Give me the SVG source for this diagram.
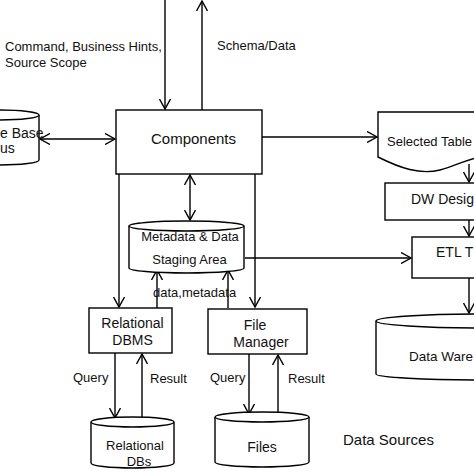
<svg xmlns="http://www.w3.org/2000/svg" width="474" height="474" viewBox="0 0 474 474">
<style>
.s{fill:#fff;stroke:#000;stroke-width:1.4}
.c{fill:none;stroke:#000;stroke-width:1.4}
text{font-family:"Liberation Sans",Arial,sans-serif;fill:#111}
.t13{font-size:13px}
.t14{font-size:14px}
.t15{font-size:15px}
.m{text-anchor:middle}
</style>
<defs>
<marker id="a" markerUnits="userSpaceOnUse" markerWidth="12" markerHeight="12" refX="10" refY="6" orient="auto-start-reverse">
<path d="M0,0.5 L10,6 L0,11.5" fill="none" stroke="#000" stroke-width="1.4"/>
</marker>
</defs>
<rect width="474" height="474" fill="#fff"/>

<g id="connectors" class="c">
<line x1="165" y1="0" x2="165" y2="109" marker-end="url(#a)"/>
<line x1="202" y1="110" x2="202" y2="1" marker-end="url(#a)"/>
<line x1="40" y1="139" x2="115" y2="139" marker-start="url(#a)" marker-end="url(#a)"/>
<line x1="262" y1="137" x2="377" y2="137" marker-end="url(#a)"/>
<line x1="190" y1="175" x2="190" y2="220" marker-start="url(#a)" marker-end="url(#a)"/>
<line x1="119" y1="174" x2="119" y2="307" marker-end="url(#a)"/>
<line x1="255" y1="174" x2="255" y2="307" marker-end="url(#a)"/>
<line x1="157" y1="308" x2="157" y2="270" marker-end="url(#a)"/>
<line x1="228" y1="308" x2="228" y2="270" marker-end="url(#a)"/>
<line x1="245" y1="258" x2="411" y2="258" marker-end="url(#a)"/>
<line x1="469" y1="164" x2="469" y2="182" marker-end="url(#a)"/>
<line x1="469" y1="220" x2="469" y2="236" marker-end="url(#a)"/>
<line x1="469" y1="278" x2="469" y2="313" marker-end="url(#a)"/>
<line x1="115" y1="353" x2="115" y2="418" marker-end="url(#a)"/>
<line x1="142" y1="420" x2="142" y2="354" marker-end="url(#a)"/>
<line x1="249" y1="354" x2="249" y2="414" marker-end="url(#a)"/>
<line x1="278" y1="416" x2="278" y2="355" marker-end="url(#a)"/>
</g>

<g id="labels">
<text class="t13" x="5" y="51">Command, Business Hints,</text>
<text class="t13" x="5" y="67">Source Scope</text>
<text class="t13" x="217" y="50">Schema/Data</text>
<text class="t13" x="153" y="297">data,metadata</text>
<text class="t13" x="73" y="382">Query</text>
<text class="t13" x="150" y="383">Result</text>
<text class="t13" x="210" y="382">Query</text>
<text class="t13" x="288" y="383">Result</text>
<text class="t15" x="343" y="445">Data Sources</text>
</g>

<g id="knowledge-base">
<path class="s" d="M-40,115 L-40,160 A39.5,5 0 0 0 39,160 L39,115"/>
<ellipse class="s" cx="-0.5" cy="115" rx="39.5" ry="5"/>
<text class="t14" x="0" y="138">e Base</text>
<text class="t14" x="0" y="153">us</text>
</g>

<g id="components">
<rect class="s" x="116" y="110" width="146" height="64"/>
<text class="t15 m" x="193.5" y="144">Components</text>
</g>

<g id="selected-tables">
<path class="s" d="M378,112 L480,112 L480,157 C465,160 455,166 440,170 C420,175 400,168 378,157 Z"/>
<text class="t13" x="387" y="146">Selected Table</text>
</g>

<g id="dw-design">
<rect class="s" x="385" y="183" width="110" height="37"/>
<text class="t14" x="411" y="204">DW Desig</text>
</g>

<g id="etl">
<rect class="s" x="412" y="237" width="90" height="41"/>
<text class="t14" x="436" y="257">ETL T</text>
</g>

<g id="data-warehouse">
<path class="s" d="M376,321 L376,374 A110,6 0 0 0 596,374 L596,321"/>
<ellipse class="s" cx="486" cy="321" rx="110" ry="7"/>
<text x="409" y="361" style="font-size:13.5px">Data Ware</text>
</g>

<g id="staging">
<path class="s" d="M129,226 L129,268 A57.5,5 0 0 0 244,268 L244,226"/>
<ellipse class="s" cx="186.5" cy="226" rx="57.5" ry="5"/>
<text class="t13 m" x="190" y="241">Metadata &amp; Data</text>
<text class="t13 m" x="189.5" y="264">Staging Area</text>
</g>

<g id="relational-dbms">
<rect class="s" x="89" y="308" width="83" height="45"/>
<text class="t14 m" x="132.5" y="328">Relational</text>
<text class="t14 m" x="132.5" y="345">DBMS</text>
</g>

<g id="file-manager">
<rect class="s" x="208" y="309" width="99" height="45"/>
<text class="t14 m" x="255" y="330">File</text>
<text class="t14 m" x="261" y="347">Manager</text>
</g>

<g id="relational-dbs">
<path class="s" d="M91,422 L91,463 A41.5,5 0 0 0 174,463 L174,422"/>
<ellipse class="s" cx="132.5" cy="422" rx="41.5" ry="5"/>
<text class="t13 m" x="135" y="450">Relational</text>
<text class="t13 m" x="139" y="466">DBs</text>
</g>

<g id="files">
<path class="s" d="M215,417 L215,462 A47,5 0 0 0 309,462 L309,417"/>
<ellipse class="s" cx="262" cy="417" rx="47" ry="5"/>
<text class="t14 m" x="262" y="452">Files</text>
</g>
</svg>
